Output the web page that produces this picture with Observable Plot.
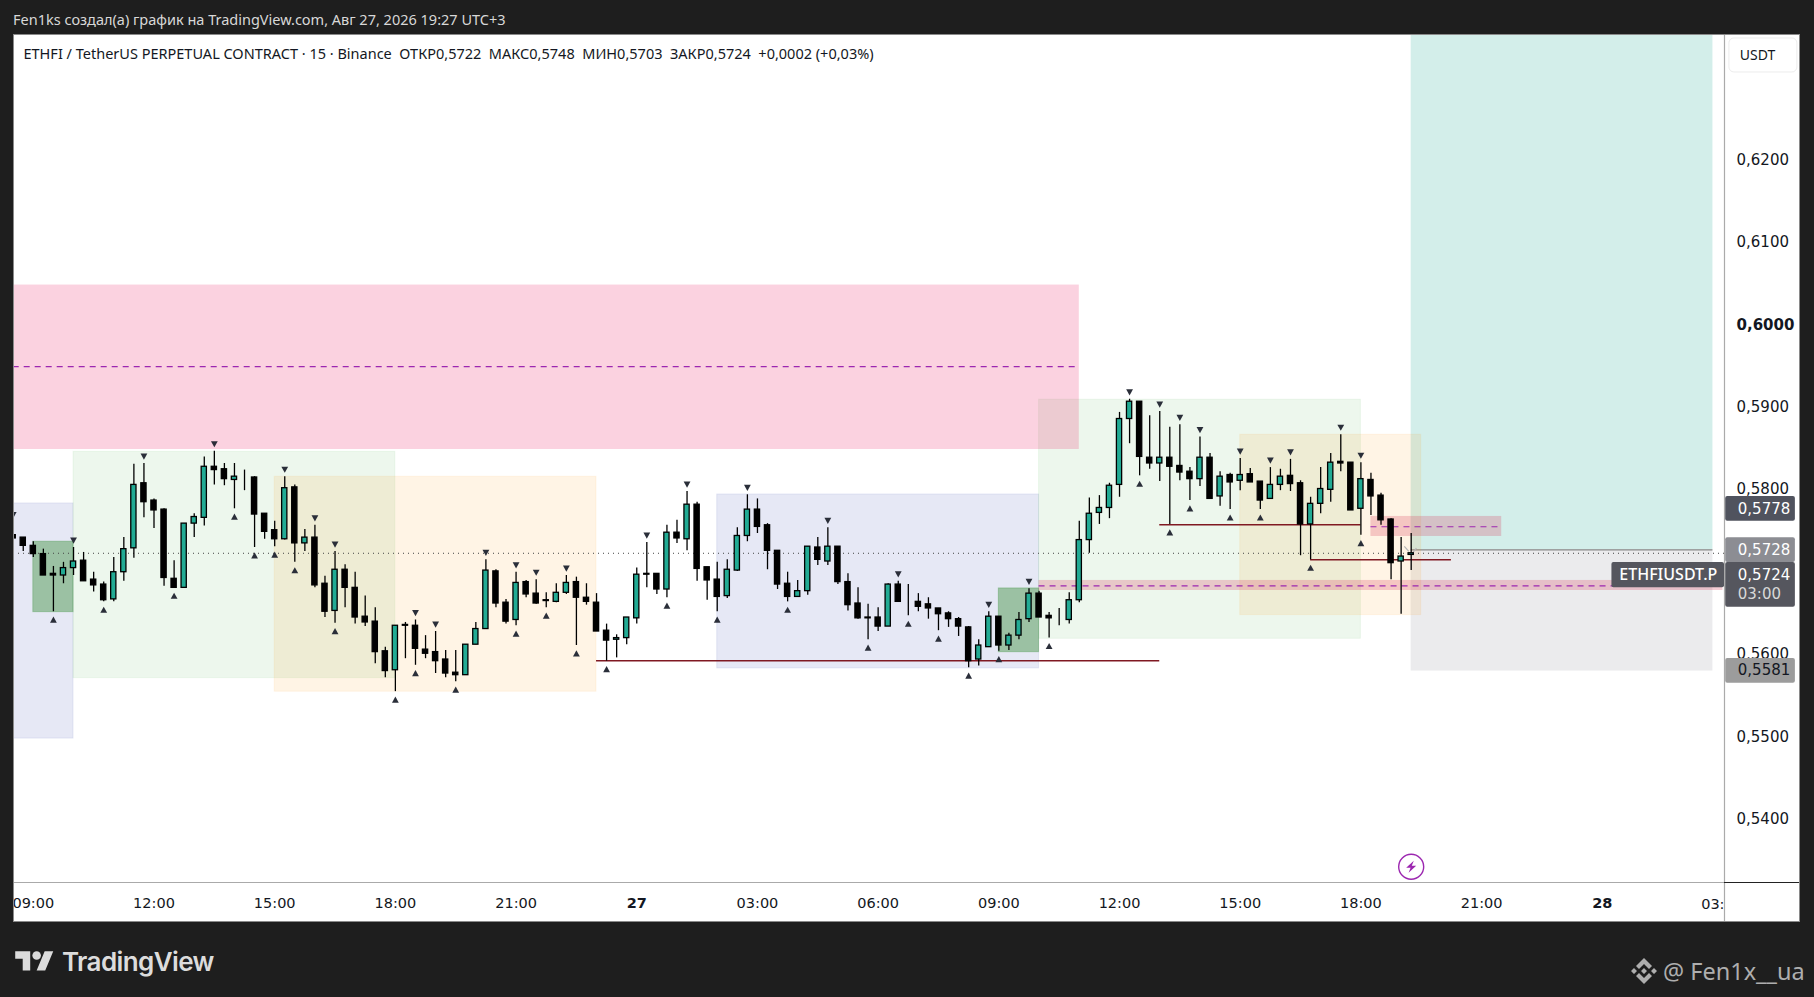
<!DOCTYPE html>
<html lang="ru"><head><meta charset="utf-8">
<script src="https://cdn.jsdelivr.net/npm/d3@7"></script>
<script src="https://cdn.jsdelivr.net/npm/@observablehq/plot@0.6"></script>
<style>
html,body{margin:0;padding:0;background:#1e1e1e;width:1814px;height:997px;overflow:hidden}
#head{position:absolute;left:13px;top:0;height:34px;color:#d8d8d8;font:14.5px/39px "Noto Sans",sans-serif;white-space:nowrap}
#chart{position:absolute;left:13px;top:34px;width:1787px;height:888px;background:#fff}
#chart::after{content:"";position:absolute;left:0;top:0;right:0;bottom:0;border:1px solid #8a8a8a;pointer-events:none}
#chart svg{overflow:hidden !important;display:block}
#foot{position:absolute;left:0;top:921px;width:1814px;height:76px}
#tv{position:absolute;left:15px;top:25px;display:flex;align-items:center;color:#dcdcdc;font:600 26px "Inter",sans-serif;letter-spacing:-.6px}
#tv svg{width:39px;height:30px;margin-right:8px}
#wm{position:absolute;left:1631px;top:34px;display:flex;align-items:center;color:#aeaeae;font:23.5px "Noto Sans",sans-serif;white-space:nowrap}
#wm svg{width:26px;height:26px;margin-right:6px}
</style></head><body>
<div id="head">Fen1ks создал(а) график на TradingView.com, Авг 27, 2026 19:27 UTC+3</div>
<div id="chart"></div>
<div id="foot">
<div id="tv"><svg viewBox="0 0 36 28"><path fill="#dcdcdc" d="M14 22H7V11H0V4h14v18zM28 22h-8l7.5-18h8L28 22z"/><circle fill="#dcdcdc" cx="20" cy="8" r="4"/></svg>TradingView</div>
<div id="wm"><svg viewBox="0 0 26 26"><path fill="#aeaeae" d="M8 11l5-5 5 5 3-3-8-8-8 8zM0 13l3-3 3 3-3 3zM8 15l5 5 5-5 3 3-8 8-8-8zM20 13l3-3 3 3-3 3zM10 13l3-3 3 3-3 3z"/></svg>@ Fen1x__ua</div>
</div>
<script>
const legendText = "ETHFI / TetherUS PERPETUAL CONTRACT · 15 · Binance  ОТКР0,5722  МАКС0,5748  МИН0,5703  ЗАКР0,5724  +0,0002 (+0,03%)";

const firstBarHour = 8.5, barStepHours = 0.25;
const opens = [
.5746,.5743,.5733,.5723,.5699,.5697,.5706,.5715,.5692,.5686,
.5668,.5701,.5730,.5809,.5788,.5777,.5693,.5682,.5760,.5767,
.5829,.5826,.5813,.5817,.5816,.5772,.5752,.5741,.5804,.5736,
.5743,.5687,.5654,.5704,.5682,.5647,.5641,.5605,.5582,.5637,
.5636,.5607,.5604,.5595,.5579,.5576,.5613,.5632,.5702,.5664,
.5643,.5689,.5675,.5667,.5665,.5676,.5689,.5670,.5664,.5630,
.5619,.5621,.5645,.5699,.5699,.5680,.5749,.5741,.5783,.5707,
.5692,.5672,.5703,.5745,.5777,.5758,.5727,.5687,.5671,.5678,
.5731,.5714,.5732,.5689,.5663,.5646,.5646,.5635,.5686,.5666,
.5665,.5662,.5657,.5651,.5644,.5634,.5595,.5610,.5647,.5612,
.5624,.5644,.5675,.5648,.5644,.5643,.5667,.5740,.5773,.5779,
.5807,.5887,.5908,.5840,.5833,.5840,.5830,.5823,.5814,.5840,
.5793,.5819,.5812,.5820,.5811,.5790,.5807,.5818,.5809,.5759,
.5784,.5801,.5835,.5834,.5778,.5813,.5794,.5765,.5714,.5722];
const highs = [
.5762,.5743,.5738,.5729,.5708,.5713,.5731,.5725,.5701,.5689,
.5719,.5743,.5832,.5833,.5790,.5778,.5715,.5760,.5772,.5841,
.5848,.5833,.5833,.5825,.5817,.5772,.5763,.5817,.5807,.5753,
.5758,.5696,.5726,.5710,.5701,.5672,.5658,.5610,.5636,.5640,
.5643,.5624,.5629,.5606,.5606,.5613,.5640,.5716,.5704,.5668,
.5701,.5691,.5692,.5676,.5687,.5697,.5695,.5687,.5675,.5638,
.5625,.5646,.5706,.5737,.5699,.5758,.5764,.5799,.5786,.5707,
.5713,.5716,.5755,.5795,.5790,.5760,.5727,.5701,.5691,.5732,
.5743,.5755,.5732,.5699,.5682,.5662,.5658,.5687,.5690,.5686,
.5675,.5670,.5657,.5653,.5646,.5635,.5619,.5653,.5647,.5627,
.5652,.5681,.5678,.5652,.5657,.5676,.5763,.5791,.5794,.5809,
.5895,.5911,.5908,.5891,.5896,.5877,.5880,.5828,.5865,.5845,
.5823,.5821,.5839,.5827,.5811,.5828,.5826,.5838,.5812,.5792,
.5828,.5845,.5868,.5834,.5834,.5821,.5797,.5766,.5743,.5748];
const lows = [
.5742,.5726,.5719,.5697,.5653,.5687,.5697,.5690,.5677,.5665,
.5665,.5690,.5718,.5767,.5754,.5684,.5682,.5682,.5743,.5757,
.5807,.5806,.5778,.5800,.5731,.5741,.5732,.5740,.5713,.5726,
.5682,.5646,.5639,.5658,.5638,.5635,.5590,.5573,.5556,.5596,
.5588,.5596,.5578,.5573,.5568,.5576,.5613,.5632,.5658,.5638,
.5636,.5670,.5662,.5658,.5664,.5674,.5612,.5661,.5629,.5593,
.5597,.5613,.5638,.5682,.5674,.5670,.5736,.5727,.5690,.5667,
.5653,.5669,.5702,.5738,.5748,.5704,.5680,.5665,.5671,.5673,
.5709,.5709,.5686,.5654,.5644,.5619,.5629,.5635,.5665,.5648,
.5653,.5644,.5630,.5634,.5623,.5585,.5587,.5610,.5605,.5606,
.5619,.5640,.5646,.5621,.5636,.5638,.5664,.5724,.5759,.5766,
.5792,.5857,.5818,.5826,.5811,.5759,.5812,.5788,.5805,.5790,
.5781,.5777,.5800,.5810,.5777,.5790,.5800,.5799,.5721,.5716,
.5772,.5786,.5823,.5776,.5746,.5770,.5758,.5692,.5650,.5703];
const closes = [
.5742,.5733,.5723,.5697,.5697,.5706,.5714,.5690,.5685,.5667,
.5701,.5729,.5807,.5786,.5776,.5694,.5682,.5760,.5768,.5829,
.5825,.5814,.5817,.5817,.5771,.5750,.5741,.5803,.5736,.5743,
.5685,.5653,.5704,.5682,.5646,.5640,.5604,.5581,.5636,.5636,
.5608,.5602,.5593,.5578,.5576,.5613,.5632,.5703,.5663,.5641,
.5688,.5674,.5663,.5666,.5676,.5688,.5670,.5665,.5629,.5618,
.5621,.5646,.5698,.5698,.5680,.5749,.5742,.5783,.5705,.5691,
.5671,.5704,.5745,.5777,.5756,.5727,.5686,.5671,.5678,.5732,
.5716,.5732,.5689,.5661,.5645,.5645,.5635,.5686,.5665,.5666,
.5659,.5657,.5650,.5644,.5635,.5593,.5612,.5647,.5612,.5624,
.5643,.5675,.5646,.5645,.5644,.5667,.5740,.5772,.5779,.5806,
.5887,.5908,.5841,.5833,.5840,.5829,.5822,.5814,.5840,.5790,
.5817,.5810,.5819,.5810,.5788,.5807,.5817,.5808,.5759,.5784,
.5802,.5834,.5833,.5776,.5814,.5793,.5764,.5712,.5720,.5724];

const pivotHighBars = [0,6,13,20,27,30,32,40,42,47,50,52,55,63,67,73,81,88,97,101,111,114,116,118,122,125,127,132,134];
const pivotLowBars = [4,9,16,22,24,26,28,32,38,40,44,50,53,56,59,65,70,77,85,89,92,95,98,103,112,115,117,121,124,129,134];

// Zones: hours from 26 Aug 00:00, prices
const sessionZones = [
 {h1:8.5,h2:10,top:.57845,bottom:.5499,fill:"#3f51b5",op:.13},
 {h1:26,h2:34,top:.57954,bottom:.55842,fill:"#3f51b5",op:.13},
 {h1:10,h2:18,top:.58472,bottom:.55724,fill:"#4caf50",op:.1},
 {h1:34,h2:42,top:.59104,bottom:.56202,fill:"#4caf50",op:.1},
 {h1:15,h2:23,top:.58169,bottom:.55559,fill:"#ff9800",op:.1},
 {h1:39,h2:43.5,top:.58679,bottom:.56489,fill:"#ff9800",op:.1},
 {h1:9,h2:10,top:.5738,bottom:.56525,fill:"#509a51",op:.5},
 {h1:33,h2:34,top:.56813,bottom:.56039,fill:"#509a51",op:.5}
];
const pinkZones = [
 {h1:8.5,h2:35,top:.60496,bottom:.585,mid:.59505,fill:"#e91e63",op:.2},
 {h1:34,h2:51,top:.5691,bottom:.56788,mid:.56845,fill:"#d63c5a",op:.25},
 {h1:42.25,h2:45.5,top:.57687,bottom:.57444,mid:.57562,fill:"#d63c5a",op:.25}
];
const redLevels = [
 {h1:23,h2:37,price:.55935},
 {h1:37,h2:42,price:.57586},
 {h1:40.75,h2:44.25,price:.57161}
];
const positionTool = {h1:43.25,h2:50.75,top:.6354,entry:.5728,stop:.5581};
const lastPrice = .5724;
const arrowLinks = [
 {h1:43.08,p1:.57323,h2:43.19,p2:.57262},
 {h1:43.38,p1:.57302,h2:43.3,p2:.57253}
];

const priceTicks = [.54,.55,.56,.58,.59,.61,.62];
const boldPriceTicks = [.60];
const timeTicks = [12,15,18,21,27,30,33,36,39,42,45];
const timeTickStart = [9];
const boldTimeTicks = [24,48];
const boldTimeLabels = {24:"27",48:"28"};

const AXIS_H1 = 51.038, AXIS_H2 = 52.8, Y_MIN = .53243, Y_MAX = .63538;
const priceTags = [
 {top:.5793,bottom:.5763,label:"0,5778",textAt:.5778,bg:"#50535e",fg:"#ffffff"},
 {top:.57428,bottom:.57128,label:"0,5728",textAt:.5728,bg:"#8c8d93",fg:"#ffffff"},
 {top:.57128,bottom:.56586,label:"0,5724",textAt:.56979,bg:"#55565e",fg:"#ffffff"},
 {top:.55963,bottom:.55663,label:"0,5581",textAt:.55817,bg:"#9c9c9c",fg:"#131722"}
];
const countdown = {label:"03:00",textAt:.56748};

const up = {draw(c){c.moveTo(0,-3.2);c.lineTo(3.4,3);c.lineTo(-3.4,3);c.closePath();}};
const down = {draw(c){c.moveTo(0,3.2);c.lineTo(3.4,-3);c.lineTo(-3.4,-3);c.closePath();}};
const bolt = {draw(c){c.moveTo(2.6,-6);c.lineTo(-5,1);c.lineTo(-.6,1);c.lineTo(-2.6,6);c.lineTo(5,-1);c.lineTo(.6,-1);c.closePath();}};

const barHour = i => firstBarHour + i * barStepHours;
const bars = opens.map((o,i)=>({h:barHour(i),o,hi:highs[i],lo:lows[i],c:closes[i]}));
const BODY = 0.065;

const chart = Plot.plot({
  width:1787, height:887,
  marginLeft:0, marginRight:76, marginTop:0, marginBottom:39,
  style:{background:"#fff",fontFamily:"'DejaVu Sans',sans-serif",fontSize:"14.5px",color:"#131722"},
  x:{domain:[8.5076,AXIS_H1]},
  y:{domain:[Y_MIN,Y_MAX]},
  marks:[
    Plot.rect([positionTool],{x1:"h1",x2:"h2",y1:"entry",y2:"top",fill:"#22ab94",fillOpacity:.2}),
    Plot.rect([positionTool],{x1:"h1",x2:"h2",y1:"stop",y2:"entry",fill:"#787b86",fillOpacity:.15}),
    Plot.ruleY([positionTool],{y:"entry",x1:"h1",x2:"h2",stroke:"#888",strokeWidth:1.2}),
    Plot.rect(sessionZones,{x1:"h1",x2:"h2",y1:"bottom",y2:"top",fill:"fill",fillOpacity:"op",stroke:"fill",strokeOpacity:d=>d.op*.8,strokeWidth:1}),
    Plot.rect(pinkZones,{x1:"h1",x2:"h2",y1:"bottom",y2:"top",fill:"fill",fillOpacity:"op"}),
    Plot.ruleY(pinkZones,{y:"mid",x1:"h1",x2:"h2",stroke:"#9c27b0",strokeWidth:1.2,strokeDasharray:"6 5"}),
    Plot.ruleY(redLevels,{y:"price",x1:"h1",x2:"h2",stroke:"#801922",strokeWidth:1.3}),
    Plot.ruleY([lastPrice],{stroke:"#444",strokeWidth:1,strokeDasharray:"1 4"}),
    Plot.link(arrowLinks,{x1:"h1",y1:"p1",x2:"h2",y2:"p2",stroke:"#b5b5b5",strokeWidth:1.2}),
    Plot.ruleX(bars,{x:"h",y1:"lo",y2:"hi",stroke:"#000",strokeWidth:1.3}),
    Plot.rect(bars,{x1:d=>d.h-BODY,x2:d=>d.h+BODY,y1:"o",y2:"c",fill:d=>d.c>d.o?"#22ab94":"#000",stroke:"#000",strokeWidth:1.3}),
    Plot.dot(pivotHighBars,{x:barHour,y:i=>highs[i],dy:-7,symbol:down,fill:"#2a2e39",stroke:"none"}),
    Plot.dot(pivotLowBars,{x:barHour,y:i=>lows[i],dy:8,symbol:up,fill:"#2a2e39",stroke:"none"}),
    Plot.dot([{h:43.25,p:.53434}],{x:"h",y:"p",r:12.5,fill:"#fff",stroke:"#9c27b0",strokeWidth:1.4}),
    Plot.dot([{h:43.25,p:.53434}],{x:"h",y:"p",symbol:bolt,fill:"#9c27b0",stroke:"none"}),
    Plot.text([legendText],{frameAnchor:"top-left",dx:10,dy:14,fontSize:14.5,fontFamily:"'Noto Sans',sans-serif",fill:"#131722",textAnchor:"start"}),
    // axes
    Plot.ruleY([Y_MIN],{stroke:"#aaa",strokeWidth:1.2}),
    Plot.ruleX([AXIS_H1],{y1:Y_MIN-.0048,y2:Y_MAX,stroke:"#aaa",strokeWidth:1.2}),
    Plot.ruleY([Y_MIN],{x1:AXIS_H1,x2:53,stroke:"#222",strokeWidth:1.2}),
    Plot.axisX({ticks:timeTicks,anchor:"bottom",tickSize:0,tickPadding:15,tickFormat:h=>String(h%24).padStart(2,"0")+":00",fill:"#131722",label:null}),
    Plot.axisX({ticks:timeTickStart,anchor:"bottom",tickSize:0,tickPadding:15,tickFormat:h=>String(h%24).padStart(2,"0")+":00",fill:"#131722",label:null}),
    Plot.axisX({ticks:boldTimeTicks,anchor:"bottom",tickSize:0,tickPadding:15,tickFormat:h=>boldTimeLabels[h],fill:"#131722",fontWeight:"bold",label:null}),
    Plot.text(["03:"],{x:AXIS_H1,frameAnchor:"bottom",textAnchor:"end",dy:26,fill:"#131722"}),
    Plot.axisY({ticks:priceTicks,anchor:"right",tickSize:0,tickPadding:12,dy:-1,tickFormat:d=>d.toFixed(4).replace(".",","),fontSize:15,fill:"#131722",label:null}),
    Plot.axisY({ticks:boldPriceTicks,anchor:"right",tickSize:0,tickPadding:12,dy:-1,tickFormat:d=>d.toFixed(4).replace(".",","),fontSize:15,fontWeight:"bold",fill:"#131722",label:null}),
    // USDT switch
    Plot.rect([{a:51.16,b:52.85,t:.6349,u:.63077}],{x1:"a",x2:"b",y1:"u",y2:"t",fill:"#fff",stroke:"#ececec",rx:5}),
    Plot.text([{a:51.86,p:.63284,t:"USDT"}],{x:"a",y:"p",text:"t",fontSize:14,fill:"#131722",fontFamily:"'Noto Sans',sans-serif"}),
    // price tags
    Plot.rect(priceTags,{x1:AXIS_H1+.03,x2:AXIS_H2,y1:"bottom",y2:"top",fill:"bg",rx:2}),
    Plot.text(priceTags,{x:AXIS_H1+.33,y:"textAt",text:"label",fill:"fg",textAnchor:"start",fontSize:15,fontWeight:500}),
    Plot.text([countdown],{x:AXIS_H1+.33,y:"textAt",text:"label",fill:"#d8d8d8",textAnchor:"start",fontSize:15}),
    Plot.rect([{a:48.24,b:AXIS_H1,t:.57128,u:.56821}],{x1:"a",x2:"b",y1:"u",y2:"t",fill:"#55565e",rx:2}),
    Plot.text([{a:49.64,p:.56979,t:"ETHFIUSDT.P"}],{x:"a",y:"p",text:"t",fill:"#fff",fontSize:16,fontFamily:"'Noto Sans',sans-serif",fontWeight:500})
  ]
});
document.getElementById("chart").appendChild(chart);
</script>
</body></html>
